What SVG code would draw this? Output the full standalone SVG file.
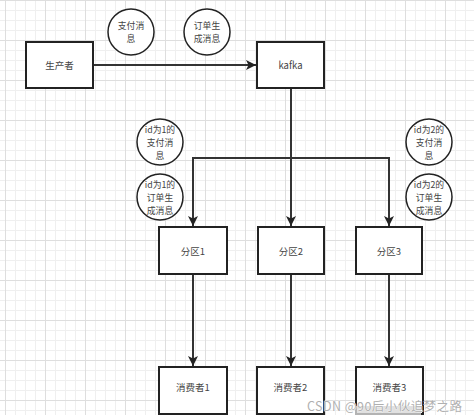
<svg xmlns="http://www.w3.org/2000/svg" width="474" height="415" viewBox="0 0 474 415">
<defs>
<pattern id="minor" x="5" y="0" width="10" height="10" patternUnits="userSpaceOnUse">
<path d="M0 0.5H10M0.5 0V10" fill="none" stroke="#efefef" stroke-width="1"/>
</pattern>
<pattern id="major" x="5" y="0" width="40" height="40" patternUnits="userSpaceOnUse">
<path d="M0 0.5H40M0.5 0V40" fill="none" stroke="#dedede" stroke-width="1"/>
</pattern>
<marker id="arr" viewBox="0 0 10 10" refX="10" refY="5" markerWidth="10" markerHeight="10" markerUnits="userSpaceOnUse" orient="auto">
<path d="M0 0L10 5L0 10L2.5 5Z" fill="#222"/>
</marker>
</defs>
<style>
.box{fill:#fff;stroke:#222;stroke-width:2}
.circ{fill:#fff;stroke:#222;stroke-width:1.5}
.t{font-family:"Noto Sans CJK SC","Liberation Sans",sans-serif;font-size:9.5px;fill:#444;text-anchor:middle;dominant-baseline:central}
.c{font-family:"Noto Sans CJK SC","Liberation Sans",sans-serif;font-size:8.8px;fill:#444;text-anchor:middle;dominant-baseline:central}
.ln{fill:none;stroke:#333;stroke-width:2}
</style>
<rect width="474" height="415" fill="#fff"/>
<rect width="474" height="415" fill="url(#minor)"/>
<rect width="474" height="415" fill="url(#major)"/>

<g id="connectors">
<path class="ln" d="M93 65H256" marker-end="url(#arr)"/>
<path class="ln" d="M291 88V226" marker-end="url(#arr)"/>
<path class="ln" d="M193 226V158H389V226" marker-end="url(#arr)"/>
<path class="ln" d="M193 158V226" marker-end="url(#arr)"/>
<path class="ln" d="M193 274V366" marker-end="url(#arr)"/>
<path class="ln" d="M291 274V366" marker-end="url(#arr)"/>
<path class="ln" d="M389 274V366" marker-end="url(#arr)"/>
</g>

<g id="producer"><rect class="box" x="26" y="42" width="67" height="46"/><text class="t" x="59.5" y="65">生产者</text></g>
<g id="kafka"><rect class="box" x="257" y="42" width="67" height="46"/><text class="t" x="290.5" y="65">kafka</text></g>

<g id="msg-pay"><circle class="circ" cx="131" cy="32" r="23"/><text class="c" x="131" y="25.6">支付消<tspan x="131" dy="12.8">息</tspan></text></g>
<g id="msg-order"><circle class="circ" cx="207" cy="32" r="23"/><text class="c" x="207" y="25.6">订单生<tspan x="207" dy="12.8">成消息</tspan></text></g>

<g id="msg-id1-pay"><circle class="circ" cx="160" cy="142" r="23"/><text class="c" x="160" y="129.3">id为1的<tspan x="160" dy="12.8">支付消</tspan><tspan x="160" dy="12.8">息</tspan></text></g>
<g id="msg-id1-order"><circle class="circ" cx="160" cy="197" r="23"/><text class="c" x="160" y="184.3">id为1的<tspan x="160" dy="12.8">订单生</tspan><tspan x="160" dy="12.8">成消息</tspan></text></g>
<g id="msg-id2-pay"><circle class="circ" cx="429" cy="142" r="23"/><text class="c" x="429" y="129.3">id为2的<tspan x="429" dy="12.8">支付消</tspan><tspan x="429" dy="12.8">息</tspan></text></g>
<g id="msg-id2-order"><circle class="circ" cx="429" cy="197" r="23"/><text class="c" x="429" y="184.3">id为2的<tspan x="429" dy="12.8">订单生</tspan><tspan x="429" dy="12.8">成消息</tspan></text></g>

<g id="partition1"><rect class="box" x="159" y="227" width="68" height="47"/><text class="t" x="193" y="251">分区1</text></g>
<g id="partition2"><rect class="box" x="258" y="227" width="66" height="47"/><text class="t" x="291" y="251">分区2</text></g>
<g id="partition3"><rect class="box" x="356" y="227" width="66" height="47"/><text class="t" x="389" y="251">分区3</text></g>

<g id="consumer1"><rect class="box" x="159" y="367" width="68" height="47"/><text class="t" x="193" y="387">消费者1</text></g>
<g id="consumer2"><rect class="box" x="257" y="367" width="67" height="47"/><text class="t" x="290.5" y="387">消费者2</text></g>
<g id="consumer3"><rect class="box" x="356" y="367" width="67" height="47"/><text class="t" x="389.5" y="387">消费者3</text></g>

<g id="watermark">
<rect x="355" y="406" width="66" height="9" fill="#d8d8d8" opacity="0.8"/>
<text x="307" y="405.5" font-family="Noto Sans CJK SC,Liberation Sans,sans-serif" font-size="12.5" textLength="155" lengthAdjust="spacing" fill="#b0b0b0" stroke="#fff" stroke-width="0.6" paint-order="stroke" dominant-baseline="central">CSDN @90后小伙追梦之路</text>
</g>
</svg>
